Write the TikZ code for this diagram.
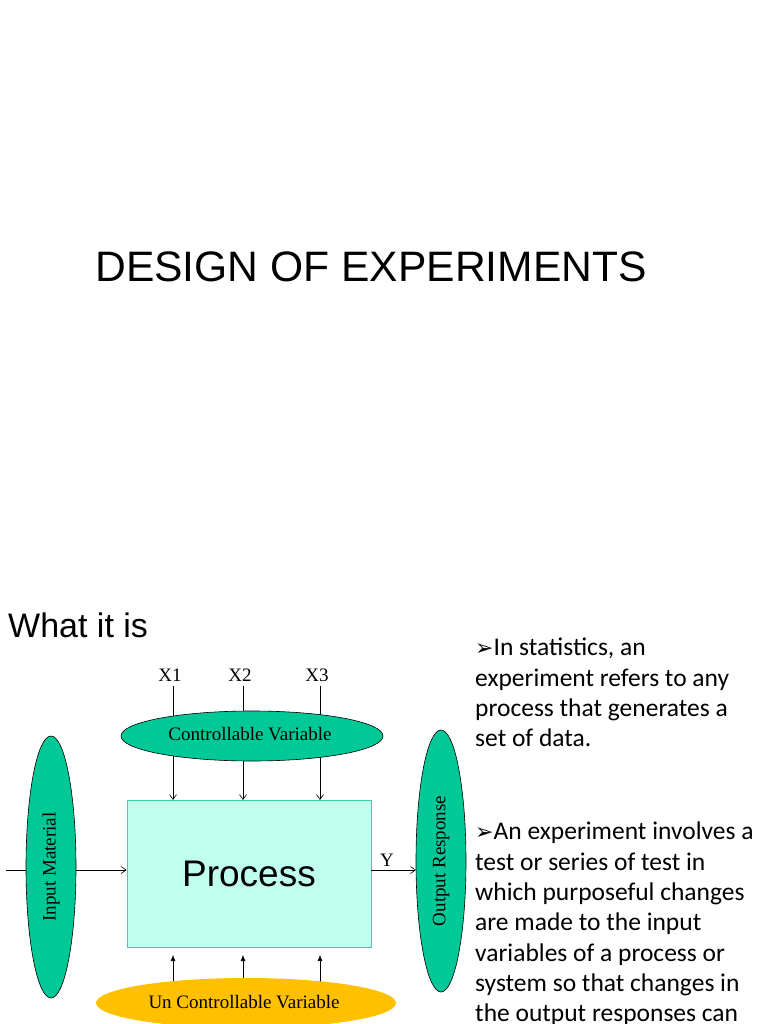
\documentclass[tikz,border=0pt]{standalone}
\usepackage{fontspec}
\setmainfont{Liberation Serif}
\newfontfamily\arial{Liberation Sans}
\newfontfamily\calib{Carlito}
\newfontfamily\dejav{DejaVu Sans}
\usetikzlibrary{shapes.geometric,arrows.meta}
\definecolor{tealg}{HTML}{00C896}
\definecolor{mint}{HTML}{C0FFEE}
\definecolor{orng}{HTML}{FFC000}
\begin{document}
\begin{tikzpicture}[x=1pt,y=-1pt,
  ell/.style={draw=black,line width=0.6pt},
  lab/.style={font=\fontsize{19}{22}\selectfont},
  arr/.style={-{Straight Barb[length=5pt,width=7pt]},line width=0.6pt},
  bodyline/.style={anchor=base west,inner sep=0,font=\calib\fontsize{25.5}{28}\selectfont}]
\clip (0,0) rectangle (768,1024);
\useasboundingbox (0,0) rectangle (768,1024);
\node[font=\arial\fontsize{42.6}{48}\selectfont] (title) at (371,267) {DESIGN OF EXPERIMENTS};
\node[anchor=base west,inner sep=0,font=\arial\fontsize{34}{36}\selectfont] (what) at (8,637) {What it is};
% process
\node[draw=tealg!80,fill=mint,line width=0.8pt,minimum width=244,minimum height=147,inner sep=0,font=\arial\fontsize{37}{40}\selectfont] (proc) at (249,873.5) {Process};
% X labels and arrows (drawn beneath the ellipses)
\foreach \i/\x in {1/173,2/243,3/320}{
  \node[lab] (x\i) at (\x-3,675) {X\i};
  \coordinate (xs\i) at (\x,686);
  \coordinate (xe\i) at (\x,800);
  \draw[arr] (xs\i) -- (xe\i);
  \coordinate (us\i) at (\x,996);
  \coordinate (ue\i) at (\x,955);
  \draw[-{Latex[length=6pt,width=5pt]},line width=0.6pt] (us\i) -- (ue\i);
}
\coordinate (inS) at (6,870);
\draw[arr] (inS) -- (proc.west |- inS);
\coordinate (yE) at (416,870);
\draw[arr] (proc.east |- yE) -- (yE);
\node[lab] (ylab) at (387,860) {Y};
% ellipses
\draw[ell,fill=tealg] (252,736) ellipse [x radius=131,y radius=25];
\node[lab] (cv) at (250,734) {Controllable Variable};
\draw[ell,fill=tealg] (51,867) ellipse [x radius=25,y radius=131];
\node[rotate=90,lab] (im) at (51,867) {Input Material};
\draw[ell,fill=tealg] (441,861) ellipse [x radius=25,y radius=131];
\node[rotate=90,lab] (orr) at (441,861) {Output Response};
\draw[ell,draw=none,fill=orng] (246,1003) ellipse [x radius=150,y radius=25];
\node[lab] (ucv) at (244,1002) {Un Controllable Variable};
% body text
\node[bodyline] (l1) at (475,655) {{\dejav\fontsize{22}{24}\selectfont ➢}In statistics, an};
\node[bodyline] (l2) at (475,686) {experiment refers to any};
\node[bodyline] (l3) at (475,716) {process that generates a};
\node[bodyline] (l4) at (475,746) {set of data.};
\node[bodyline] (l5) at (475,839) {{\dejav\fontsize{22}{24}\selectfont ➢}An experiment involves a};
\node[bodyline] (l6) at (475,870) {test or series of test in};
\node[bodyline] (l7) at (475,900) {which purposeful changes};
\node[bodyline] (l8) at (475,930) {are made to the input};
\node[bodyline] (l9) at (475,961) {variables of a process or};
\node[bodyline] (l10) at (475,991) {system so that changes in};
\node[bodyline] (l11) at (475,1021) {the output responses can};
\end{tikzpicture}
\end{document}
